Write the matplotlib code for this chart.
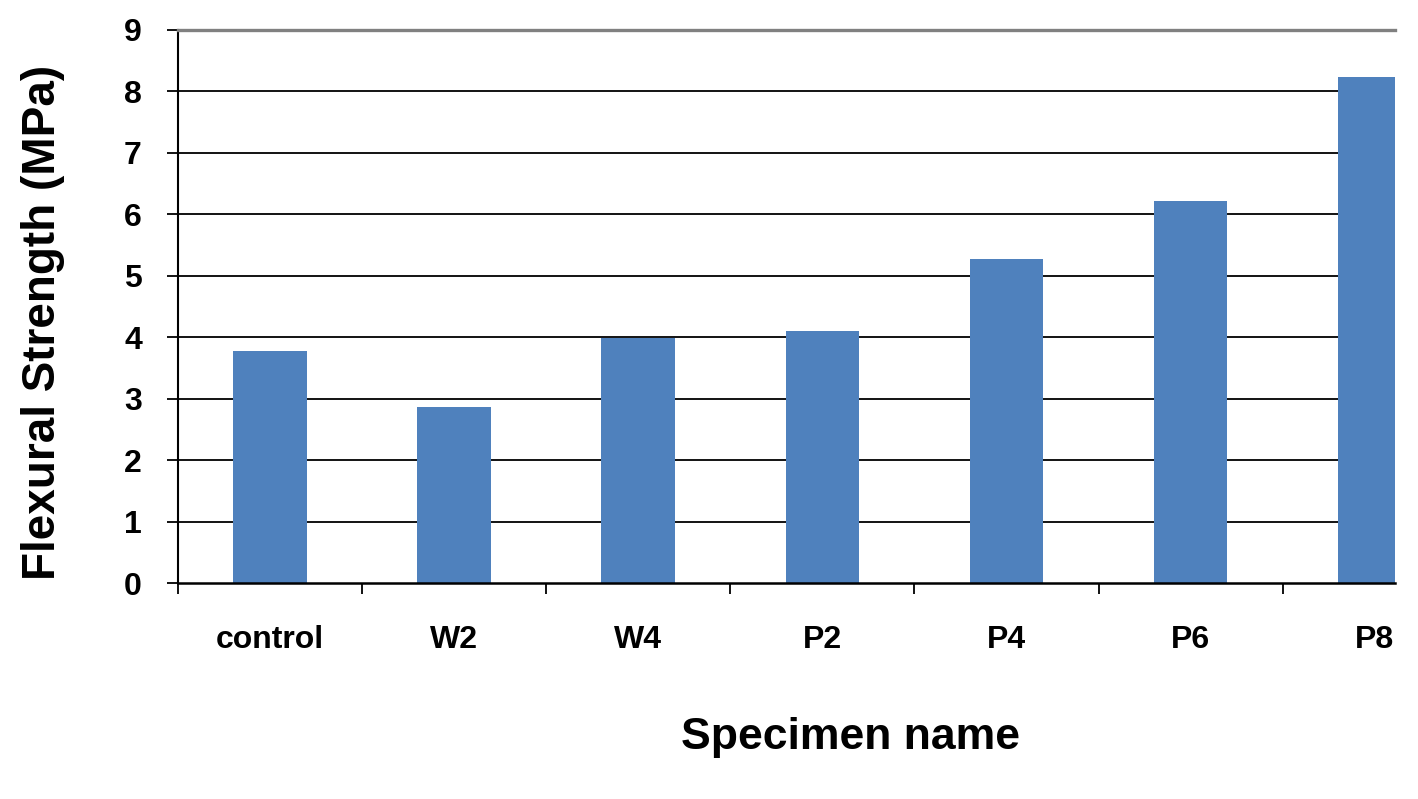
import matplotlib
matplotlib.use("Agg")
import matplotlib.pyplot as plt
import numpy as np

specimens = ["control", "W2", "W4", "P2", "P4", "P6", "P8"]
strength = [3.78, 2.86, 3.98, 4.10, 5.27, 6.22, 8.24]

plt.rcParams["font.family"] = ["Liberation Sans", "DejaVu Sans"]
plt.rcParams["font.weight"] = "bold"

fig = plt.figure(figsize=(14.18, 7.99), dpi=100)
ax = fig.add_axes([0.1255, 0.2703, 0.9838 - 0.1255, 0.9625 - 0.2703])

x = np.arange(len(specimens))
ax.bar(x, strength, width=0.40, color="#4F81BD", zorder=3)

# grid lines at each integer
for v in range(1, 9):
    ax.axhline(v, color="black", lw=1.3, zorder=1)

ax.spines["right"].set_visible(False)
ax.spines["top"].set_color("#808080")
ax.spines["top"].set_linewidth(2.4)
ax.spines["left"].set_linewidth(1.5)
ax.spines["bottom"].set_linewidth(1.8)
ax.spines["bottom"].set_zorder(4)

ax.set_yticks(range(0, 10))
ax.set_xticks(x)
ax.set_xticklabels(specimens)
ax.set_xticks(np.arange(-0.5, 6.6, 1), minor=True)
ax.tick_params(axis="x", which="major", length=0, pad=30, labelsize=23)
ax.tick_params(axis="x", which="minor", length=8, width=1.3, direction="out")
ax.tick_params(axis="y", length=8, width=1.3, pad=18, labelsize=23)

# limits after ticks so the last bar is cut by the frame
ax.set_ylim(0, 9)
ax.set_xlim(-0.5, 6.11)

ax.set_ylabel("Flexural Strength (MPa)", fontsize=33, fontweight="bold")
ax.yaxis.set_label_coords(-0.093, 0.471)
ax.set_xlabel("Specimen name", fontsize=32, fontweight="bold")
ax.xaxis.set_label_coords(0.553, -0.243)

fig.savefig("out.png", dpi=100)
